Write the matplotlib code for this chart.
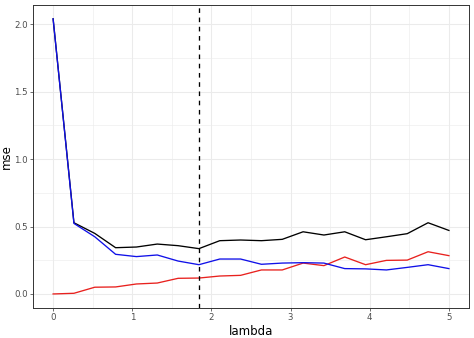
import numpy as np
import matplotlib
matplotlib.use("Agg")
import matplotlib.pyplot as plt
from matplotlib.ticker import MultipleLocator

# lambda grid (20 values from 0 to 5)
lam = np.linspace(0, 5, 20)
mse = [2.04, 0.528, 0.449, 0.343, 0.348, 0.370, 0.358, 0.336, 0.395, 0.400,
       0.395, 0.405, 0.461, 0.437, 0.461, 0.402, 0.424, 0.447, 0.528, 0.471]
bias2 = [2.04, 0.523, 0.424, 0.294, 0.277, 0.289, 0.244, 0.217, 0.259, 0.259,
         0.220, 0.229, 0.232, 0.229, 0.188, 0.186, 0.178, 0.197, 0.217, 0.188]
var = [0.0, 0.005, 0.050, 0.052, 0.074, 0.081, 0.116, 0.118, 0.133, 0.138,
       0.178, 0.178, 0.229, 0.210, 0.274, 0.217, 0.249, 0.251, 0.313, 0.284]
best_lam = lam[7]

fig = plt.figure(figsize=(4.74, 3.38), dpi=100)
ax = fig.add_axes([0.0703, 0.0896, 0.9185, 0.8954])

lw = 0.95
ax.plot(lam, mse, color="black", lw=lw)
ax.plot(lam, var, color="#E8211E", lw=lw)
ax.plot(lam, bias2, color="#1010E8", lw=lw)
ax.axvline(best_lam, color="black", lw=lw, linestyle=(0, (3.5, 3.5)))

ax.set_xlim(-0.25, 5.25)
ax.set_ylim(-0.102, 2.142)
ax.xaxis.set_major_locator(MultipleLocator(1))
ax.xaxis.set_minor_locator(MultipleLocator(0.5))
ax.yaxis.set_major_locator(MultipleLocator(0.5))
ax.yaxis.set_minor_locator(MultipleLocator(0.25))
ax.yaxis.set_major_formatter(matplotlib.ticker.FormatStrFormatter("%.1f"))

ax.grid(which="major", color="#EBEBEB", lw=0.75)
ax.grid(which="minor", color="#EBEBEB", lw=0.4)
ax.set_axisbelow(True)
for s in ax.spines.values():
    s.set_color("#333333")
    s.set_linewidth(0.7)

ax.tick_params(which="major", length=2, width=0.5, color="#333333",
               labelsize=6.2, labelcolor="#4D4D4D", pad=2)
ax.tick_params(which="minor", length=0)

ax.set_xlabel("lambda", fontsize=8.5, labelpad=2)
ax.set_ylabel("mse", fontsize=8.5)
ax.yaxis.set_label_coords(-0.047, 0.5)

fig.savefig("out.png", dpi=100)
